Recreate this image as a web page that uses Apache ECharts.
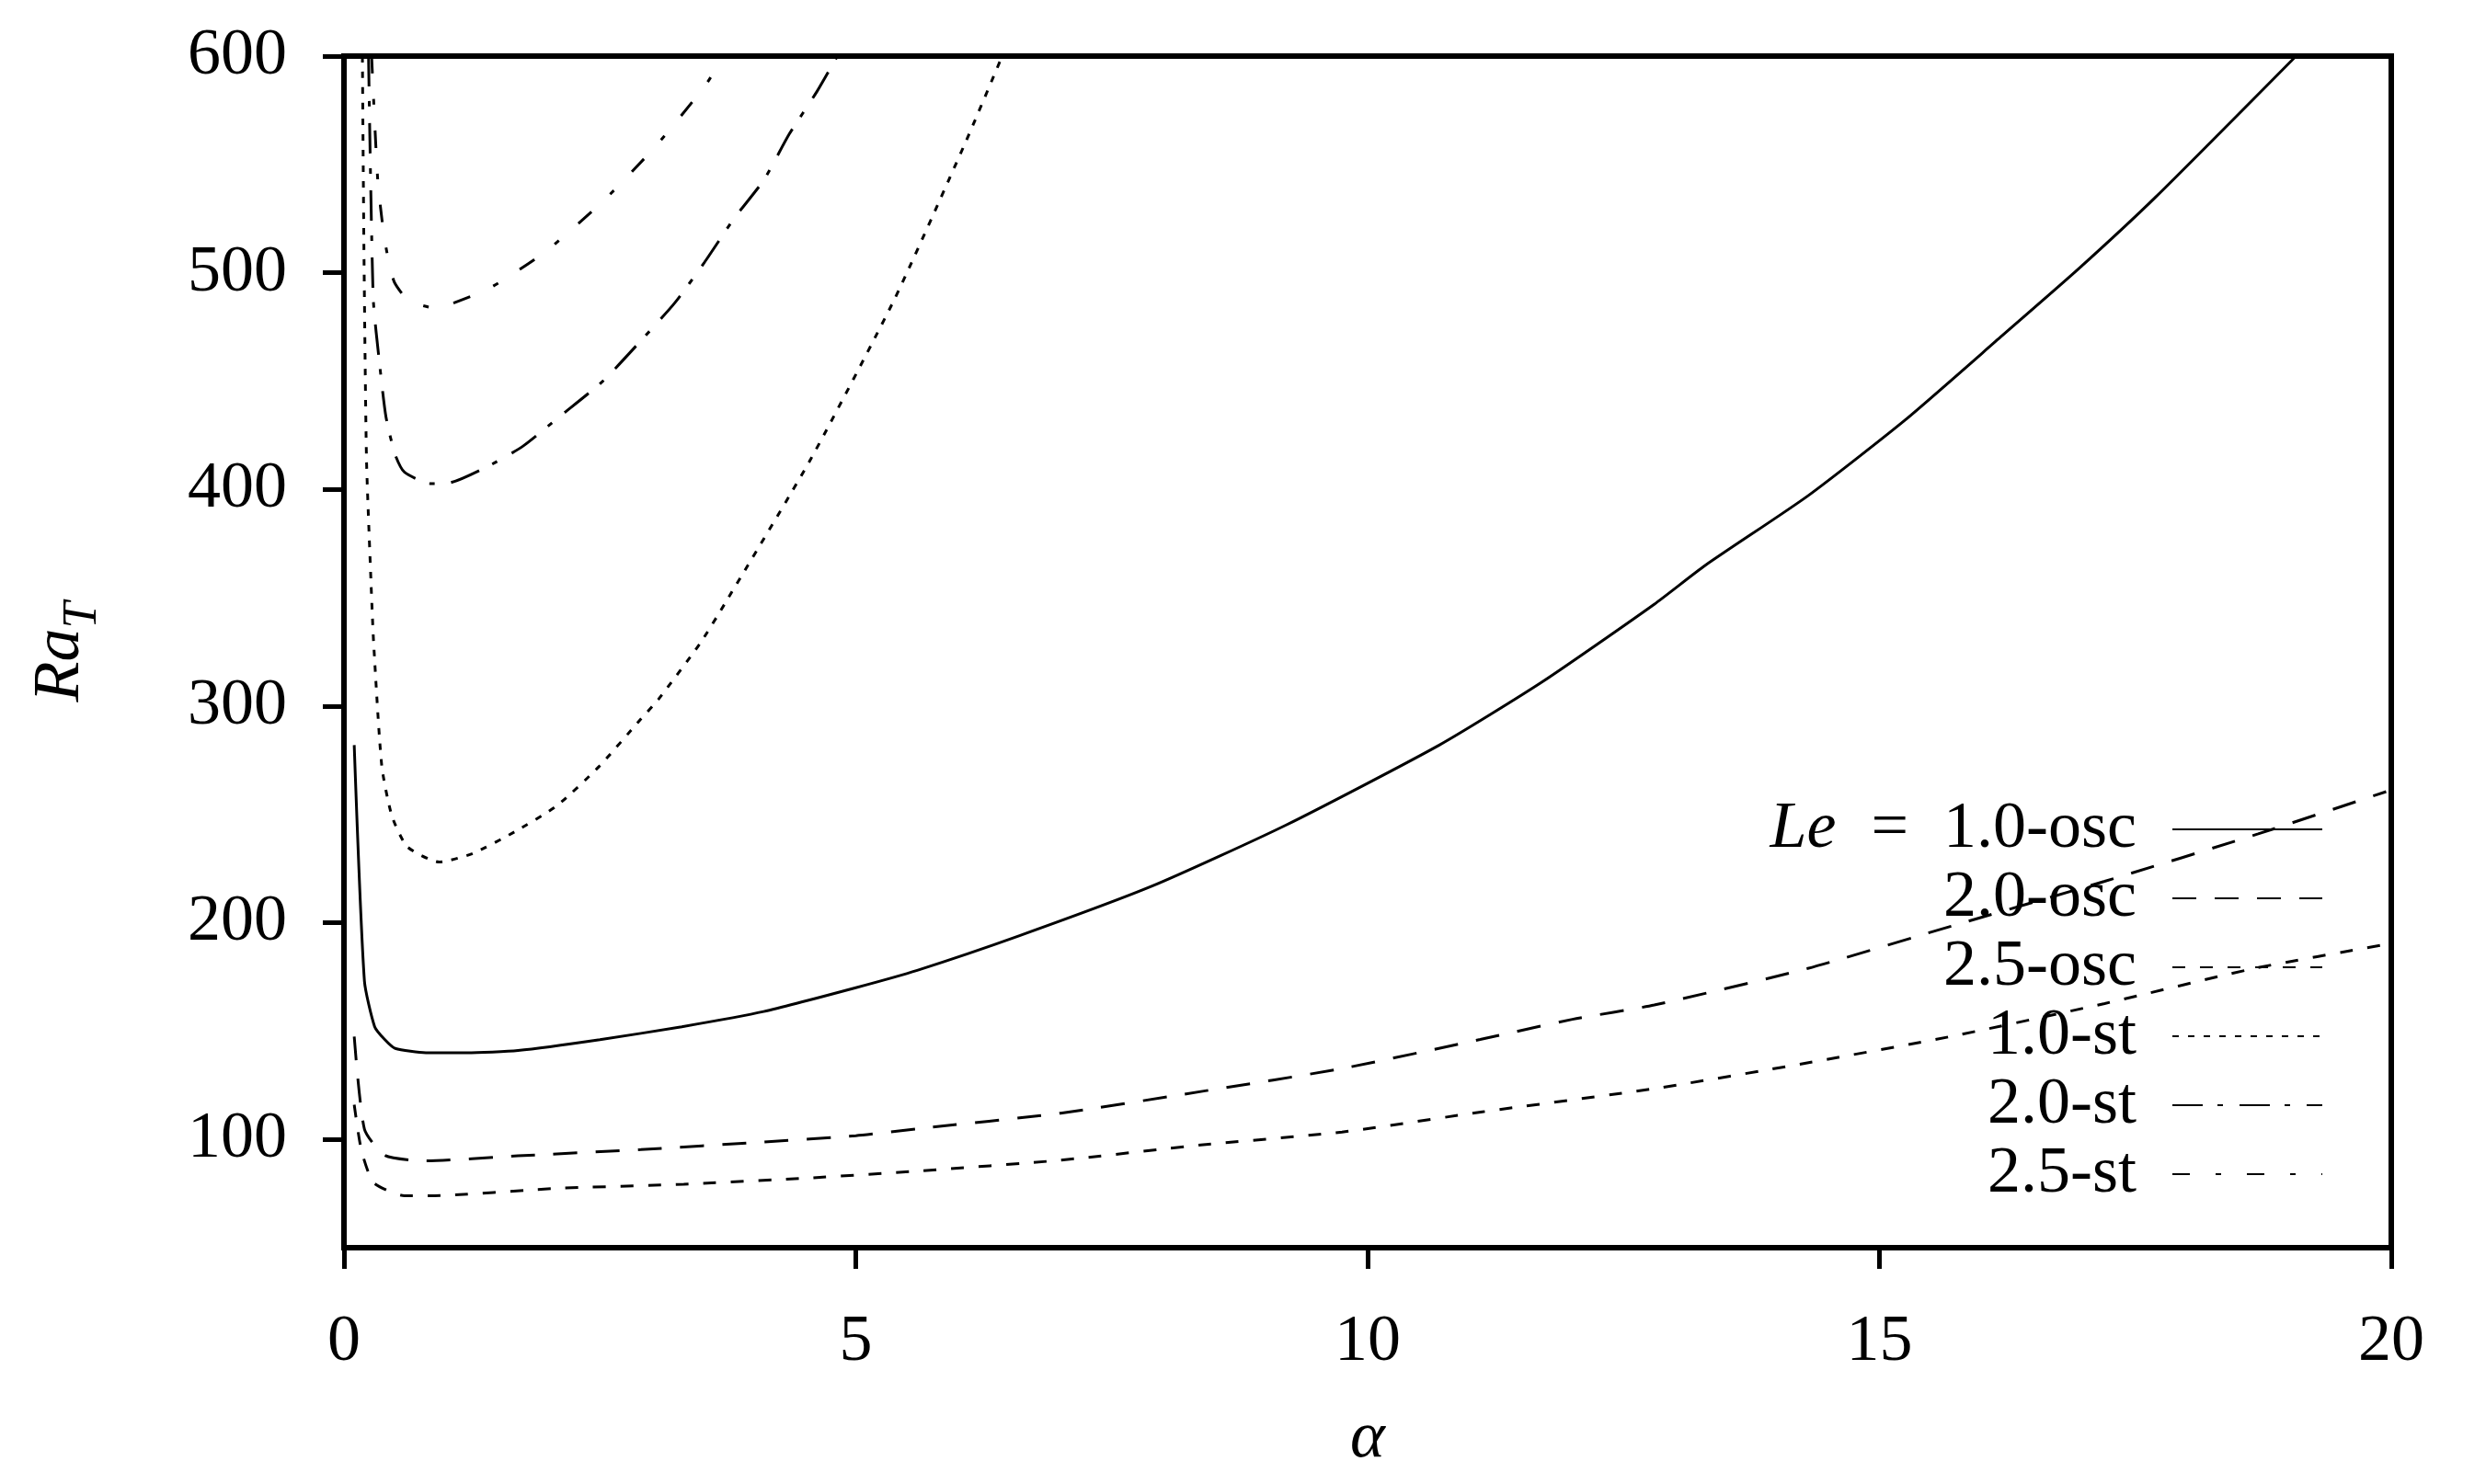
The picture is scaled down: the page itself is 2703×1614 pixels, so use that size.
<!DOCTYPE html>
<html>
<head>
<meta charset="utf-8">
<script src="https://cdn.jsdelivr.net/npm/echarts@6/dist/echarts.min.js"></script>
<style>
  html, body { margin: 0; padding: 0; background: #fff; }
  #chart { width: 2703px; height: 1614px; }
</style>
</head>
<body>
<div id="chart"></div>
<script>
// ---- data ----
const xTicks = [0, 5, 10, 15, 20];
const yTicks = [100, 200, 300, 400, 500, 600];

const osc10X = [0.1, 0.2, 0.3, 0.4, 0.5, 0.8, 1.2, 1.7, 2.5, 3.3, 4.1, 5.0, 5.6, 6.6, 7.9, 9.2, 10.7, 11.7, 12.8, 13.3, 14.3, 15.25, 16.2, 16.95, 17.7, 19.07];
const osc10Y = [282, 173, 152, 146, 142, 140, 140, 141, 146, 152, 159, 170, 178, 194, 217, 245, 282, 311, 347, 365, 397, 432, 471, 502, 535, 600];

const osc20X = [0.1, 0.2, 0.4, 0.8, 1.7, 2.9, 4.1, 5.0, 5.6, 7.0, 8.4, 9.75, 11.1, 12.0, 12.8, 14.3, 15.7, 17.2, 18.7, 19.95];
const osc20Y = [147.5, 104.7, 92.6, 90.1, 92.4, 95.3, 98.8, 101.7, 104.9, 112.1, 122.3, 132.7, 146.1, 155.4, 162, 178.9, 198.4, 219.1, 241, 260.5];

const osc25X = [0.1, 0.17, 0.29, 0.59, 0.84, 2.08, 3.32, 4.55, 5.62, 7.0, 8.37, 9.75, 11.12, 12.81, 14.27, 15.73, 17.2, 18.66, 19.95];
const osc25Y = [116, 95, 80, 74, 74, 77.4, 79.3, 82.2, 85.4, 90.4, 97.4, 103.4, 112.7, 123.5, 135.1, 147.8, 162.7, 178.9, 190];

const st10X = [0.18, 0.195, 0.22, 0.265, 0.29, 0.37, 0.47, 0.62, 0.93, 1.26, 1.67, 2.08, 2.49, 2.9, 3.07, 3.48, 3.73, 4.56, 5.38, 6.07, 6.43];
const st10Y = [600, 511, 414, 356, 329, 272, 249, 235, 228, 232, 242, 254, 272, 294, 303, 329, 348, 414, 488, 560, 600];

const st20X = [0.24, 0.286, 0.35, 0.41, 0.5, 0.59, 0.84, 0.99, 1.42, 1.75, 2.13, 2.53, 2.9, 3.23, 3.52, 3.81, 4.1, 4.35, 4.62, 4.82];
const st20Y = [600, 488, 457, 433.5, 416, 408, 402.7, 402.7, 411, 420, 434.5, 450, 468.6, 486, 504.7, 525, 542.7, 564, 583.6, 600];

const st25X = [0.27, 0.33, 0.39, 0.43, 0.49, 0.59, 0.66, 0.88, 1.36, 1.61, 1.99, 2.55, 3.06, 3.53, 3.71];
const st25Y = [600, 542.7, 517.3, 507, 495.9, 489, 486.5, 483.8, 491.4, 498.2, 510.5, 533.9, 559.2, 586.5, 600];

const seriesNames = ['1.0-osc', '2.0-osc', '2.5-osc', '1.0-st', '2.0-st', '2.5-st'];
// ---------------------------------------

const FONT = 'Liberation Serif';
const FS = 72;

function pairs(xs, ys) { return xs.map((x, i) => [x, ys[i]]); }

const dashTypes = ['solid', [26, 20], [14, 16], [7, 10], [33, 16, 6, 18], [19, 28, 6, 28]];
const datasets = [
  pairs(osc10X, osc10Y), pairs(osc20X, osc20Y), pairs(osc25X, osc25Y),
  pairs(st10X, st10Y), pairs(st20X, st20Y), pairs(st25X, st25Y)
];

const series = seriesNames.map((n, i) => ({
  name: n,
  type: 'line',
  data: datasets[i],
  showSymbol: false,
  symbol: 'none',
  smooth: 0.2,
  clip: true,
  lineStyle: { color: '#000', width: 3, type: dashTypes[i] },
  itemStyle: { color: '#000' },
  emphasis: { disabled: true }
}));

const chart = echarts.init(document.getElementById('chart'));
chart.setOption({
  animation: false,
  backgroundColor: '#fff',
  grid: {
    left: 374, right: 103, top: 61, bottom: 257,
    show: true, borderColor: '#000', borderWidth: 6, backgroundColor: 'transparent'
  },
  legend: {
    orient: 'vertical',
    align: 'right',
    right: 177,
    top: 866,
    padding: 0,
    itemGap: 3,
    itemWidth: 163,
    itemHeight: 2,
    data: seriesNames,
    itemStyle: { color: 'rgba(0,0,0,0)', borderWidth: 0, opacity: 0 },
    formatter: function (name) { return name === '1.0-osc' ? '{it|Le}{eq|=}1.0-osc' : name; },
    textStyle: {
      fontFamily: FONT, fontSize: FS, color: '#000', lineHeight: 72,
      padding: [0, 34, 0, 0],
      rich: {
        it: { fontFamily: FONT, fontSize: FS, fontStyle: 'italic', color: '#000', lineHeight: 72 },
        eq: { fontFamily: FONT, fontSize: FS, color: '#000', lineHeight: 72, padding: [0, 38, 0, 38] }
      }
    },
    selectedMode: false
  },
  xAxis: {
    type: 'value',
    min: 0, max: 20, interval: 5,
    name: 'α',
    nameLocation: 'middle',
    nameGap: 172,
    nameTextStyle: { fontFamily: FONT, fontSize: FS, fontStyle: 'italic', color: '#000' },
    axisLine: { show: true, onZero: false, lineStyle: { color: '#000', width: 6 } },
    axisTick: { show: true, inside: false, length: 23, lineStyle: { color: '#000', width: 5 } },
    axisLabel: { show: true, margin: 67, fontFamily: FONT, fontSize: FS, color: '#000', showMinLabel: true, showMaxLabel: true },
    splitLine: { show: false }
  },
  yAxis: {
    type: 'value',
    min: 50, max: 600,
    name: '{i|Ra}{s|T}',
    nameLocation: 'middle',
    nameRotate: 90,
    nameGap: 258,
    nameTextStyle: {
      color: '#000',
      rich: {
        i: { fontFamily: FONT, fontSize: FS, fontStyle: 'italic', color: '#000', lineHeight: 86, verticalAlign: 'top' },
        s: { fontFamily: FONT, fontSize: 52, fontStyle: 'italic', color: '#000', lineHeight: 86, verticalAlign: 'bottom' }
      }
    },
    axisLine: { show: true, onZero: false, lineStyle: { color: '#000', width: 6 } },
    axisTick: { show: true, inside: false, length: 23, lineStyle: { color: '#000', width: 5 }, customValues: yTicks },
    axisLabel: { show: true, margin: 62, fontFamily: FONT, fontSize: FS, color: '#000', customValues: yTicks },
    splitLine: { show: false }
  },
  series: series
});
</script>
</body>
</html>
